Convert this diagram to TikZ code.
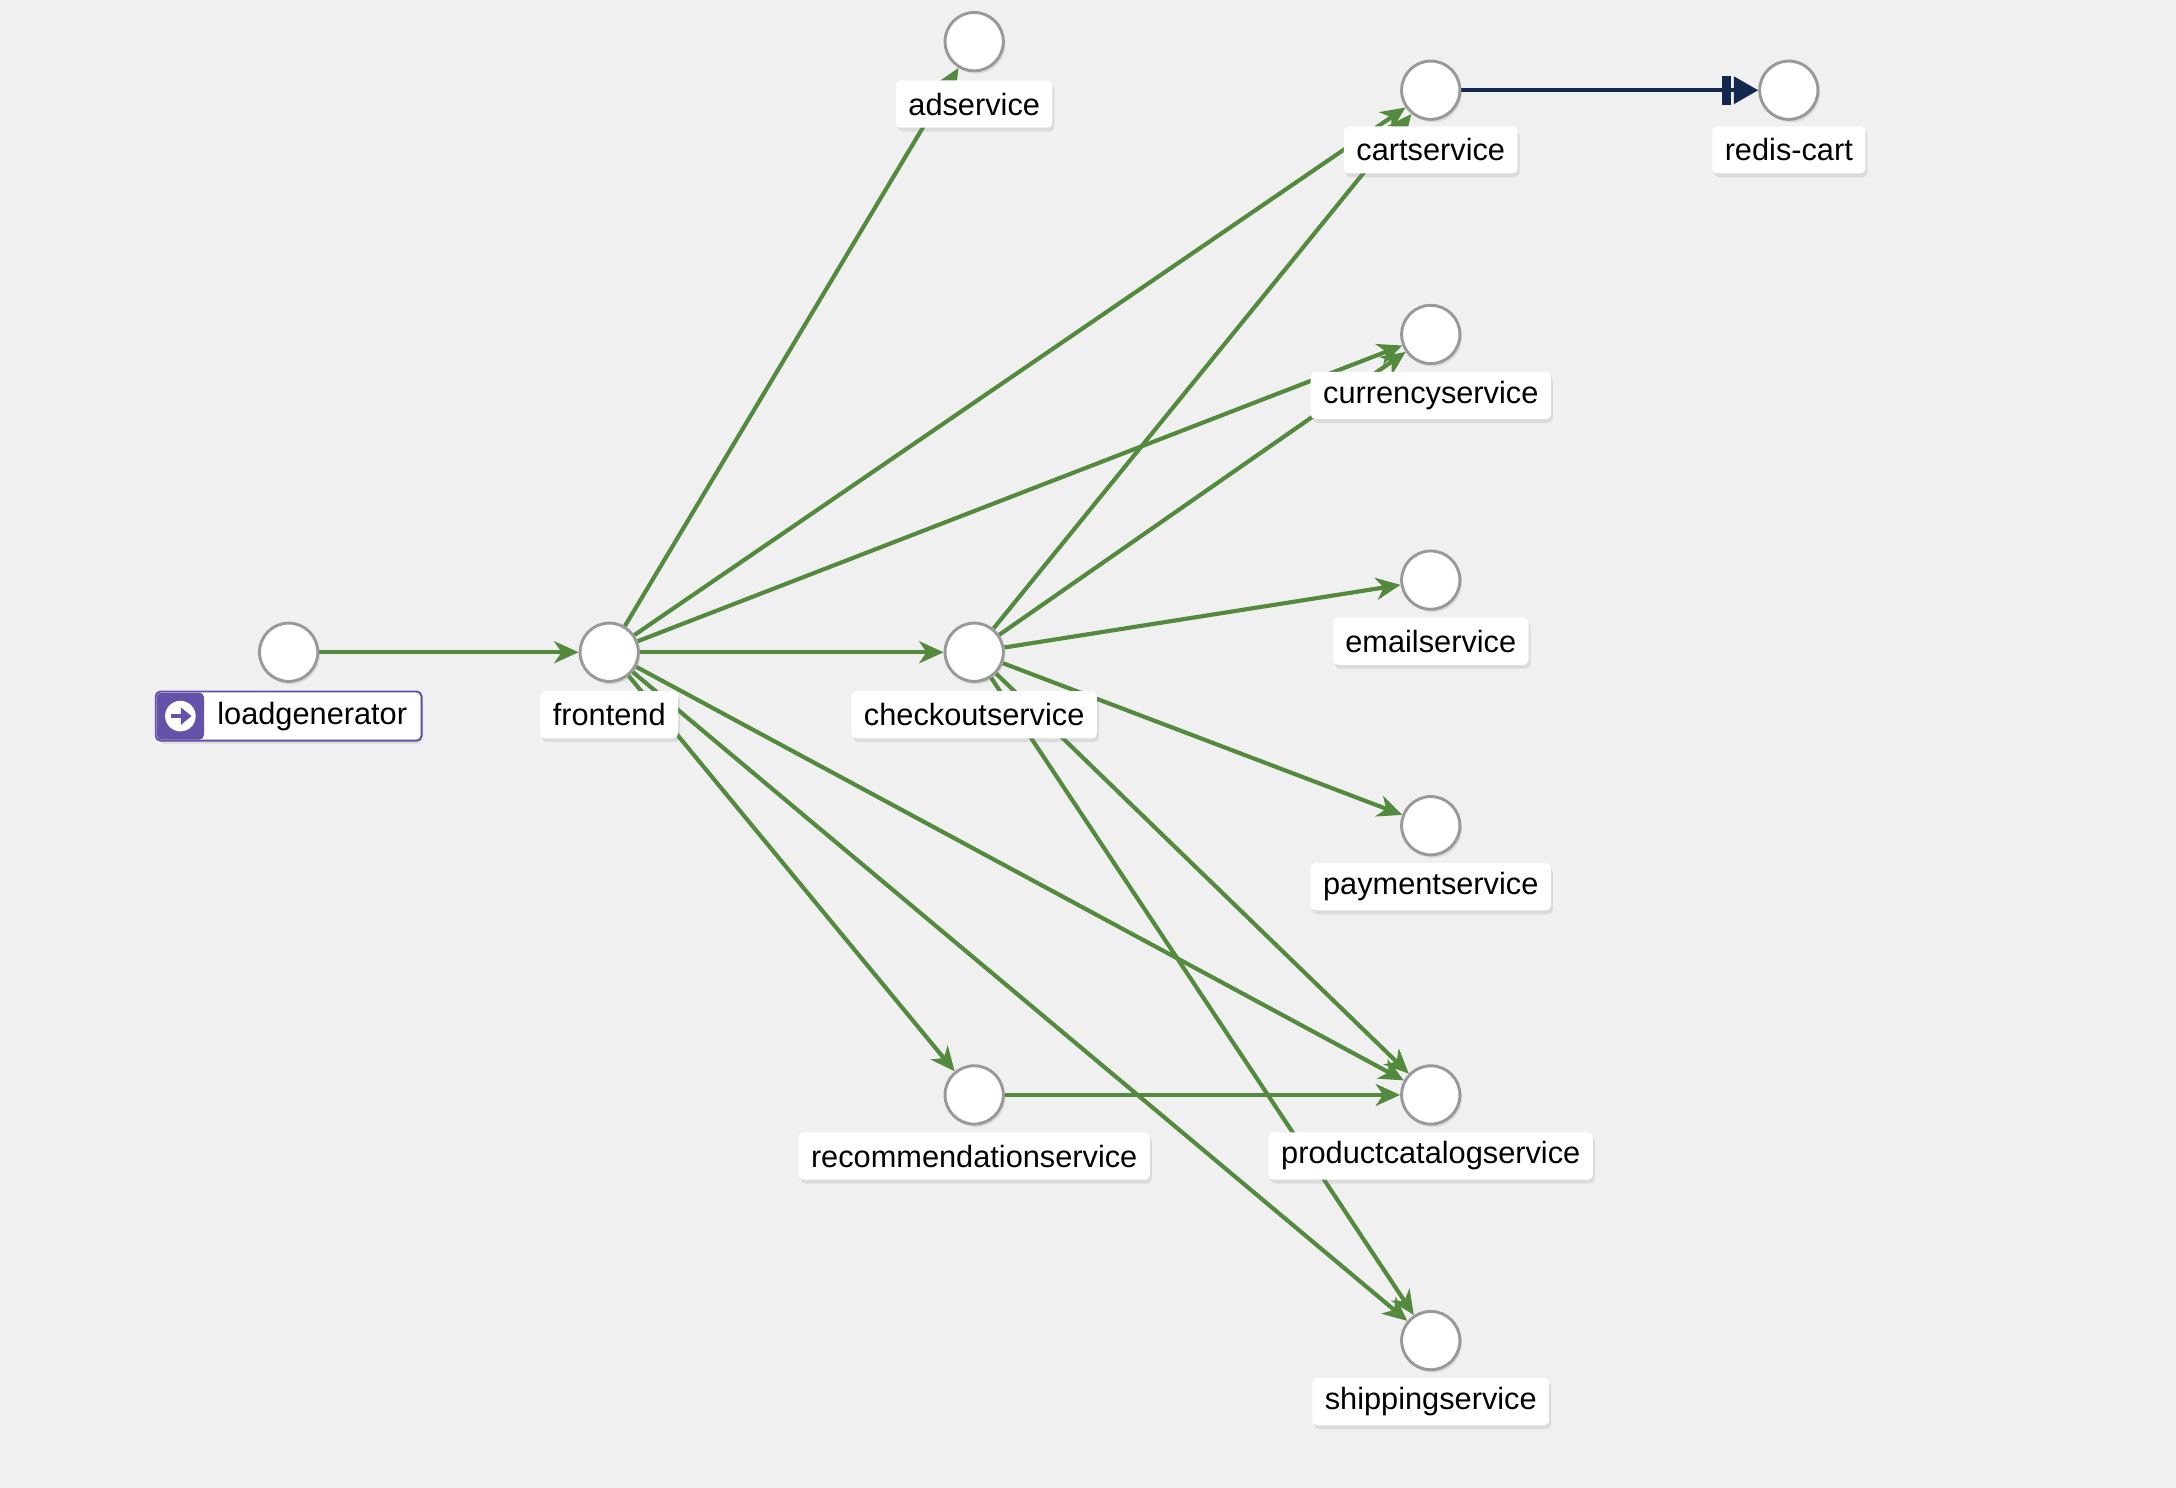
\documentclass[tikz,border=0pt]{standalone}
\usepackage{fontspec}
\setmainfont{Liberation Sans}
\usetikzlibrary{arrows.meta,backgrounds,shadows}
\definecolor{bg}{HTML}{F0F0F0}
\definecolor{edge}{HTML}{538A3E}
\definecolor{navy}{HTML}{13284F}
\definecolor{purp}{HTML}{6552A8}
\begin{document}
\begin{tikzpicture}[x=0.01cm,y=-0.01cm,
  svc/.style={circle,draw=gray!80,line width=0.6pt,fill=white,minimum size=0.42cm,inner sep=0pt,
    drop shadow={opacity=0.18,shadow xshift=0.4pt,shadow yshift=-0.6pt}},
  lbl/.style={rectangle,rounded corners=1pt,fill=white,minimum height=0.34cm,inner xsep=0.09cm,inner ysep=0pt,
    font=\fontsize{6.3pt}{7pt}\selectfont,
    drop shadow={opacity=0.18,shadow xshift=0.4pt,shadow yshift=-0.8pt}},
  flow/.style={draw=edge,line width=0.85pt,-{Stealth[length=5pt,width=4.5pt,inset=1.5pt]}}]
\useasboundingbox (0,0) rectangle (1568,1072);
\node[svc] (ad) at (702,30) {};
\node[lbl] (adl) at (702,75) {adservice};
\node[svc] (cart) at (1031,65) {};
\node[lbl] (cartl) at (1031,108) {cartservice};
\node[svc] (redis) at (1289,65) {};
\node[lbl] (redisl) at (1289,108) {redis-cart};
\node[svc] (cur) at (1031,241) {};
\node[lbl] (curl) at (1031,285) {currencyservice};
\node[svc] (email) at (1031,418) {};
\node[lbl] (emaill) at (1031,462) {emailservice};
\node[svc] (load) at (208,470) {};
\node[lbl,minimum width=1.90cm] (loadl) at (208,516) {};
\fill[purp,rounded corners=1pt] (113,499) rectangle (147,533);
\node[circle,fill=white,minimum size=0.22cm,inner sep=0pt] (iconc) at (130,516) {};
\draw[purp,line width=0.9pt,-{Triangle[length=2.2pt,width=3.5pt]}] ([xshift=-0.07cm]iconc.center) -- ([xshift=0.08cm]iconc.center);
\draw[purp,line width=0.4pt,rounded corners=1pt] (loadl.north west) rectangle (loadl.south east);
\node[font=\fontsize{6.3pt}{7pt}\selectfont,inner sep=0pt] (loadt) at (225,516) {loadgenerator};
\node[svc] (fe) at (439,470) {};
\node[lbl] (fel) at (439,515) {frontend};
\node[svc] (co) at (702,470) {};
\node[lbl] (col) at (702,515) {checkoutservice};
\node[svc] (pay) at (1031,595) {};
\node[lbl] (payl) at (1031,639) {paymentservice};
\node[svc] (rec) at (702,789) {};
\node[lbl] (recl) at (702,833) {recommendationservice};
\node[svc] (pc) at (1031,789) {};
\node[lbl] (pcl) at (1031,833) {productcatalogservice};
\node[svc] (ship) at (1031,966) {};
\node[lbl] (shipl) at (1031,1010) {shippingservice};
\begin{scope}[on background layer]
\fill[bg] (0,0) rectangle (1568,1072);
\draw[flow] (load) -- (fe);
\draw[flow] (fe) -- (ad);
\draw[flow] (fe) -- (cart);
\draw[flow] (fe) -- (cur);
\draw[flow] (fe) -- (co);
\draw[flow] (fe) -- (rec);
\draw[flow] (fe) -- (pc);
\draw[flow] (fe) -- (ship);
\draw[flow] (co) -- (cart);
\draw[flow] (co) -- (cur);
\draw[flow] (co) -- (email);
\draw[flow] (co) -- (pay);
\draw[flow] (co) -- (pc);
\draw[flow] (co) -- (ship);
\draw[flow] (rec) -- (pc);
\draw[navy,line width=0.85pt,-{Bar[width=6pt,line width=1pt]Bar[width=6pt,line width=1pt,sep=0.5pt]Triangle[length=5pt,width=5.5pt]}] (cart) -- (redis);
\end{scope}
\end{tikzpicture}
\end{document}
